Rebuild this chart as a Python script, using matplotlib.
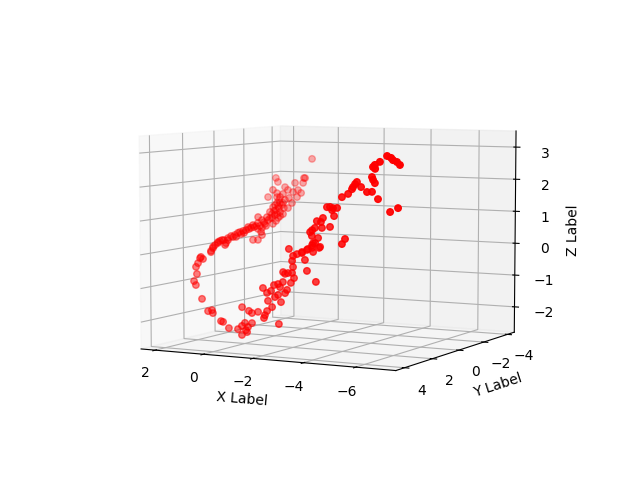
import matplotlib
matplotlib.use("Agg")
import matplotlib.pyplot as plt

xs = [-6.61,-6.76,-6.83,-6.98,-7.09,-6.34,-6.15,-6.08,-6.16,-5.82,-5.86,-5.93,-5.63,-5.82,-6.05,-6.81,-6.51,
      -5.13,-5.06,-4.98,-4.94,-5.29,-4.79,-4.55,-4.67,-4.55,-3.73,-3.85,-3.97,-4.13,-3.93,-4.01,-3.85,-3.57,-3.49,-3.33,-3.53,-3.25,-3.14,-3.06,-3.13,
      -3.02,-3.18,-2.90,-2.73,-2.94,-2.69,-2.49,-3.14,-3.22,-2.94,-2.90,-2.49,-2.29,-2.13,-2.09,-2.61,-2.69,-3.05,-1.96,
      -1.76,-1.72,-1.55,-1.35,-1.43,-1.80,-1.67,-1.34,-1.14,-0.97,-1.22,-1.51,-1.43,-1.14,-1.01,-1.26,-0.85,-0.51,-0.68,-0.72,-0.89,-0.68,-0.59,-0.55,-1.17,
      0.08,0.34,0.47,0.76,0.34,0.51,0.60,0.64,0.77,0.94,0.77,0.55,1.33,1.58,1.67,2.06,2.23,2.02,2.49,
      2.96,3.04,2.91,2.95,2.86,2.77,2.64,2.73,
      2.76,2.67,2.76,2.67,2.45,2.45,2.27,2.14,2.01,2.58,2.36,2.19,2.10,
      2.32,2.10,1.87,1.65,1.44,2.54,2.23,1.96,1.74,1.52,2.40,2.18,2.01,1.83,1.61,1.39,
      1.86,1.68,2.08,1.86,1.68,1.85,1.46,1.77,1.59,1.41,1.50,1.94,1.68,1.55,1.86,1.72,
      1.83,1.69,1.70,1.47,1.61,1.38,1.74,1.56,1.43,1.25,1.83,1.65,1.52,1.74,1.56,1.38,
      1.89,1.76,1.62,1.89,1.89,2.29,2.07,1.67,1.40,1.22,1.53,1.75,1.35,1.62,1.80,1.98,1.58,1.84,
      2.31,2.22,1.90,1.77,1.45,1.05,1.09,1.32,1.54,1.36,1.18,1.00,0.99]
ys = [3.6,3.6,3.6,3.6,3.6,3.6,3.6,3.6,3.6,3.2,3.2,3.2,3.2,3.2,3.2,3.2,3.2,
      3.0,3.0,3.0,3.0,3.0,3.0,3.0,3.0,3.0,2.6,2.6,2.6,2.6,2.6,2.6,2.6,2.6,2.6,2.6,2.6,2.6,2.6,2.6,2.6,
      2.2,2.2,2.2,2.2,2.2,2.2,2.2,2.2,2.2,2.2,2.2,2.2,2.2,2.2,2.2,2.2,2.2,2.2,2.2,
      1.6,1.6,1.6,1.6,1.6,1.6,1.6,1.6,1.6,1.6,1.6,1.6,1.6,1.6,1.6,1.6,1.6,1.6,1.6,1.6,1.6,1.6,1.6,1.6,1.6,
      1.0,1.0,1.0,1.0,1.0,1.0,1.0,1.0,1.0,1.0,1.0,1.0,1.0,1.0,1.0,1.0,1.0,1.0,1.0,
      0.7,0.7,0.7,0.7,0.7,0.7,0.7,0.7,
      0.0,0.0,0.0,0.0,0.0,0.0,0.0,0.0,0.0,0.0,0.0,0.0,0.0,
      -0.8,-0.8,-0.8,-0.8,-0.8,-0.8,-0.8,-0.8,-0.8,-0.8,-0.8,-0.8,-0.8,-0.8,-0.8,-0.8,
      -1.8,-1.8,-1.8,-1.8,-1.8,-1.8,-1.8,-1.8,-1.8,-1.8,-1.8,-1.8,-1.8,-1.8,-1.8,-1.8,
      -2.6,-2.6,-2.6,-2.6,-2.6,-2.6,-2.6,-2.6,-2.6,-2.6,-2.6,-2.6,-2.6,-2.6,-2.6,-2.6,
      -3.2,-3.2,-3.2,-3.2,-3.2,-3.2,-3.2,-3.2,-3.2,-3.2,-3.2,-3.2,-3.2,-3.2,-3.2,-3.2,-3.2,-3.2,
      -3.8,-3.8,-3.8,-3.8,-3.8,-3.8,-3.8,-3.8,-3.8,-3.8,-3.8,-3.8,-4.3]
zs = [3.07,3.02,2.96,2.91,2.83,2.90,2.81,2.75,2.70,2.44,2.36,2.27,2.01,2.02,1.82,1.59,1.47,
      2.27,2.21,2.12,2.06,2.13,1.92,1.82,0.62,0.47,1.48,1.49,1.46,1.47,1.40,1.23,0.91,1.16,1.04,1.06,0.87,0.86,0.79,0.73,0.62,
      0.38,0.24,0.31,0.19,0.11,0.16,0.09,0.53,0.27,0.37,0.23,0.06,0.02,-0.04,-0.19,-0.14,-0.46,-0.77,0.16,
      -0.44,-0.62,-0.63,-0.61,-0.66,-0.77,-0.92,-0.91,-0.98,-1.02,-1.07,-1.14,-1.24,-1.31,-1.38,-1.52,-1.20,-1.13,-1.27,-1.51,-1.69,-1.82,-1.95,-2.04,-2.19,
      -1.95,-2.00,-1.94,-1.84,-2.31,-2.44,-2.54,-2.32,-2.42,-2.53,-2.70,-2.60,-2.52,-2.34,-2.32,-2.00,-2.04,-2.09,-1.67,
      -1.29,-1.17,-0.94,-0.72,-0.60,-0.44,-0.46,-0.40,
      -0.27,-0.18,-0.31,-0.14,-0.01,0.02,0.09,-0.06,0.10,-0.08,0.06,0.09,0.00,
      0.12,0.26,0.33,0.46,0.53,0.08,0.19,0.23,0.36,0.44,0.15,0.13,0.29,0.27,0.40,0.47,
      0.51,0.36,-0.04,-0.03,0.13,0.70,0.71,0.42,0.55,0.62,0.43,0.41,0.61,0.49,0.32,0.23,
      0.81,0.97,0.43,0.63,0.72,0.82,0.75,0.88,0.95,0.76,0.61,0.85,0.75,0.62,0.53,0.69,
      1.06,1.06,1.07,1.25,1.38,1.24,1.48,1.00,0.91,1.08,1.17,1.26,1.24,1.36,1.16,0.99,0.91,0.96,
      1.83,1.70,1.54,1.45,1.69,1.86,1.70,1.46,1.39,1.23,1.37,1.86,2.46]

fig = plt.figure()
ax = fig.add_subplot(111, projection='3d')
ax.scatter(xs, ys, zs, c='r', marker='o', s=22)
ax.view_init(elev=5.5, azim=118)
ax.set_xlim(-7.5, 2.6)
ax.set_ylim(-4.6, 4.6)
ax.set_zlim(-2.8, 3.5)
ax.set_box_aspect(None, zoom=1.165)
ax.tick_params(axis='x', pad=1)
ax.tick_params(axis='y', pad=1)
ax.set_xlabel('X Label', labelpad=0)
ax.set_ylabel('Y Label', labelpad=0)
ax.set_zlabel('Z Label', labelpad=2)
fig.savefig('out.png', dpi=100)
